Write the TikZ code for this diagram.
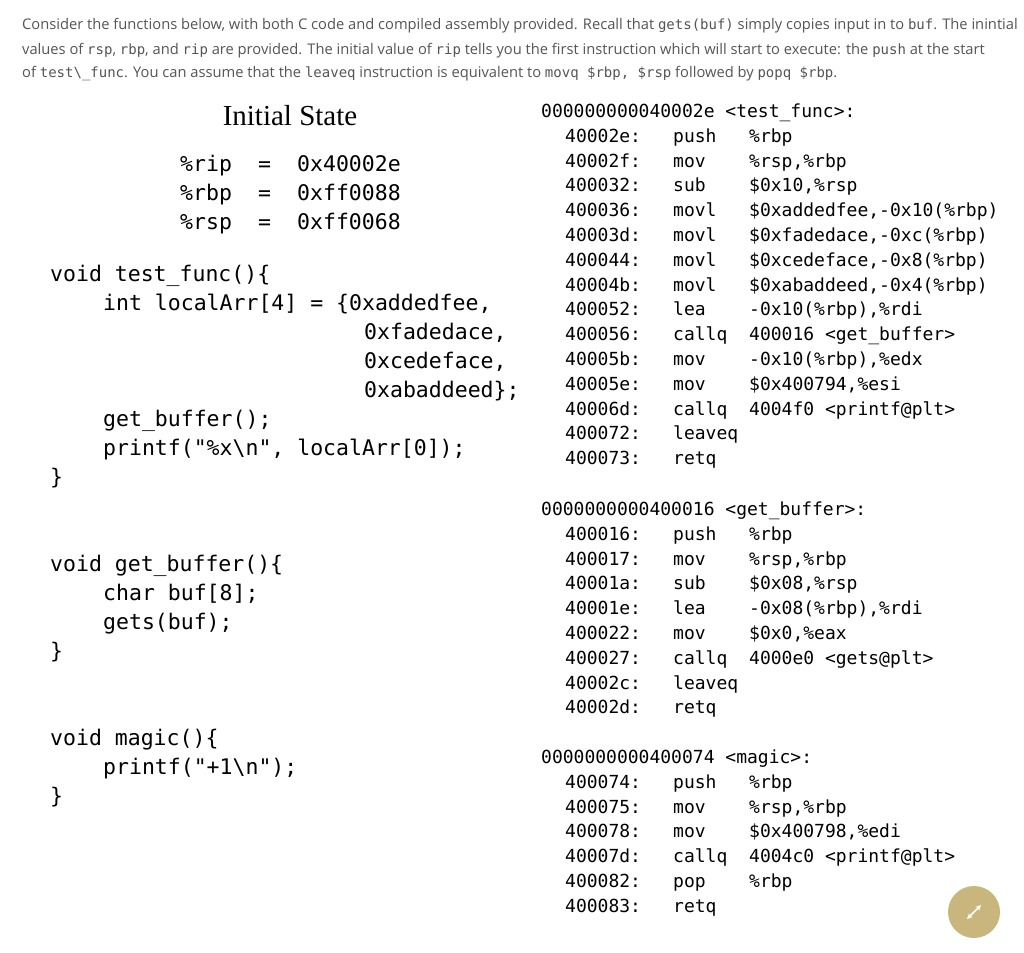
\documentclass[tikz,border=0pt]{standalone}
\usepackage{fontspec}
\setmainfont{Open Sans}
\newfontfamily\codefont{DejaVu Sans Mono}
\newfontfamily\titlefont{Liberation Serif}
\definecolor{para}{HTML}{555555}
\definecolor{btn}{HTML}{C9B67C}
\newcommand{\ic}[1]{{\codefont\fontsize{14}{16}\selectfont #1}}
\begin{document}
\begin{tikzpicture}[x=1pt,y=-1pt,
  ptext/.style={anchor=base west,inner sep=0,text=para,font=\fontsize{14.7}{17}\selectfont},
  lc/.style={anchor=base west,inner sep=0,yshift=-7.5pt,font=\codefont\fontsize{21.5}{24}\selectfont},
  rc/.style={anchor=base west,inner sep=0,yshift=-6.5pt,font=\codefont\fontsize{18}{20}\selectfont}]
\useasboundingbox (0,0) rectangle (1024,952);
\fill[white] (0,0) rectangle (1024,952);
\node[ptext] (p1) at (22,30) {Consider the functions below, with both C code and compiled assembly provided. Recall that \ic{gets(buf)} simply copies input in to \ic{buf}. The inintial};
\node[ptext] (p2) at (22,55) {values of \ic{rsp}, \ic{rbp}, and \ic{rip} are provided. The initial value of \ic{rip} tells you the first instruction which will start to execute: the \ic{push} at the start};
\node[ptext] (p3) at (22,78) {of \ic{test\textbackslash\_func}. You can assume that the \ic{leaveq} instruction is equivalent to \ic{movq \$rbp, \$rsp} followed by \ic{popq \$rbp}.};
\node[inner sep=0,font=\titlefont\fontsize{29}{32}\selectfont] (title) at (290,116) {Initial State};
% registers
\foreach \r/\v/\y/\n in {rip/40002e/164/a,rbp/ff0088/193/b,rsp/ff0068/222/c}{
  \node[lc] (reg\n) at (180,\y) {\%\r};
  \node[lc] (eq\n) at (258,\y) {=};
  \node[lc] (val\n) at (297,\y) {0x\v};
}
% left code
\node[lc] (l1) at (50,274) {void test\_func()\{};
\node[lc] (l2) at (103,303) {int localArr[4] = \{0xaddedfee,};
\node[lc] (l3) at (364,332) {0xfadedace,};
\node[lc] (l4) at (364,361) {0xcedeface,};
\node[lc] (l5) at (364,390) {0xabaddeed\};};
\node[lc] (l6) at (103,419) {get\_buffer();};
\node[lc] (l7) at (103,448) {printf("\%x\textbackslash n", localArr[0]);};
\node[lc] (l8) at (50,477) {\}};
\node[lc] (g1) at (50,564) {void get\_buffer()\{};
\node[lc] (g2) at (103,593) {char buf[8];};
\node[lc] (g3) at (103,622) {gets(buf);};
\node[lc] (g4) at (50,651) {\}};
\node[lc] (m1) at (50,738) {void magic()\{};
\node[lc] (m2) at (103,767) {printf("+1\textbackslash n");};
\node[lc] (m3) at (50,796) {\}};
% right assembly
\node[rc] (h1) at (541,111) {000000000040002e <test\_func>:};
\foreach \a/\m/\o [count=\i] in {40002e/push/\%rbp,40002f/mov/{\%rsp,\%rbp},400032/sub/{\$0x10,\%rsp},400036/movl/{\$0xaddedfee,-0x10(\%rbp)},40003d/movl/{\$0xfadedace,-0xc(\%rbp)},400044/movl/{\$0xcedeface,-0x8(\%rbp)},40004b/movl/{\$0xabaddeed,-0x4(\%rbp)},400052/lea/{-0x10(\%rbp),\%rdi},400056/callq/{400016 <get\_buffer>},40005b/mov/{-0x10(\%rbp),\%edx},40005e/mov/{\$0x400794,\%esi},40006d/callq/{4004f0 <printf@plt>},400072/leaveq/{},400073/retq/{}}{
  \pgfmathsetmacro\yy{111+24.8*\i}
  \node[rc] (ta\i) at (565,\yy) {\a:};
  \node[rc] (tm\i) at (673,\yy) {\m};
  \node[rc] (to\i) at (749,\yy) {\o};
}
\node[rc] (h2) at (541,509) {0000000000400016 <get\_buffer>:};
\foreach \a/\m/\o [count=\i] in {400016/push/\%rbp,400017/mov/{\%rsp,\%rbp},40001a/sub/{\$0x08,\%rsp},40001e/lea/{-0x08(\%rbp),\%rdi},400022/mov/{\$0x0,\%eax},400027/callq/{4000e0 <gets@plt>},40002c/leaveq/{},40002d/retq/{}}{
  \pgfmathsetmacro\yy{509+24.8*\i}
  \node[rc] (ga\i) at (565,\yy) {\a:};
  \node[rc] (gm\i) at (673,\yy) {\m};
  \node[rc] (go\i) at (749,\yy) {\o};
}
\node[rc] (h3) at (541,757) {0000000000400074 <magic>:};
\foreach \a/\m/\o [count=\i] in {400074/push/\%rbp,400075/mov/{\%rsp,\%rbp},400078/mov/{\$0x400798,\%edi},40007d/callq/{4004c0 <printf@plt>},400082/pop/\%rbp,400083/retq/{}}{
  \pgfmathsetmacro\yy{757+24.8*\i}
  \node[rc] (ma\i) at (565,\yy) {\a:};
  \node[rc] (mm\i) at (673,\yy) {\m};
  \node[rc] (mo\i) at (749,\yy) {\o};
}
% button
\node[circle,fill=btn,minimum size=52pt,inner sep=0] (btn) at (974,912) {};
\coordinate (bA) at (967,919);
\coordinate (bB) at (981,905);
\draw[white,line width=1.5pt,<->,>=stealth] (bA) -- (bB);
\end{tikzpicture}
\end{document}
